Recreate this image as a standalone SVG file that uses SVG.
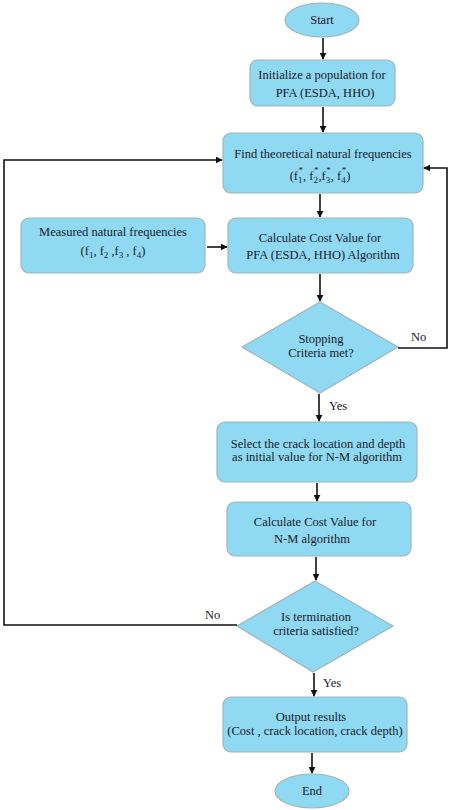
<svg xmlns="http://www.w3.org/2000/svg" width="474" height="810" viewBox="0 0 474 810">
<defs>
<marker id="ah" viewBox="0 0 10 10" refX="9" refY="5" markerWidth="7" markerHeight="7" markerUnits="userSpaceOnUse" orient="auto"><path d="M0,0 L10,5 L0,10 z" fill="#111"/></marker>
<style>
.n{fill:#8fd9f3;stroke:#a3b3bb;stroke-width:1.2}
.t{font-family:"Liberation Serif","Times New Roman",serif;font-size:12.5px;fill:#1a1a2a;text-anchor:middle}
.l{font-family:"Liberation Serif","Times New Roman",serif;font-size:12.5px;fill:#1a1a2a}
.c{fill:none;stroke:#111;stroke-width:1.6}
.a{marker-end:url(#ah)}
.s{font-size:9px}
</style>
</defs>
<rect width="474" height="810" fill="#fff"/>
<g id="start"><ellipse class="n" cx="322" cy="20" rx="37" ry="17"/><text class="t" x="322" y="24">Start</text></g>
<g id="init"><rect class="n" x="250" y="60" width="145" height="46" rx="8"/><text class="t" x="322" y="79">Initialize a population for</text><text class="t" x="325" y="97">PFA (ESDA, HHO)</text></g>
<g id="find"><rect class="n" x="223" y="133" width="200" height="60" rx="8"/><text class="t" x="323" y="158">Find theoretical natural frequencies</text>
<text class="t" x="320" y="180">(f<tspan class="s" dy="3">1</tspan><tspan class="s" dx="-4" dy="-10">*</tspan><tspan dy="7">, f</tspan><tspan class="s" dy="3">2</tspan><tspan class="s" dx="-4" dy="-10">*</tspan><tspan dy="7">,f</tspan><tspan class="s" dy="3">3</tspan><tspan class="s" dx="-4" dy="-10">*</tspan><tspan dy="7">, f</tspan><tspan class="s" dy="3">4</tspan><tspan class="s" dx="-4" dy="-10">*</tspan><tspan dy="7">)</tspan></text></g>
<g id="measured"><rect class="n" x="21" y="218" width="184" height="55" rx="8"/><text class="t" x="113" y="236">Measured natural frequencies</text>
<text class="t" x="113" y="255">(f<tspan class="s" dy="3">1</tspan><tspan dy="-3">, f</tspan><tspan class="s" dy="3">2</tspan><tspan dy="-3"> ,f</tspan><tspan class="s" dy="3">3</tspan><tspan dy="-3"> , f</tspan><tspan class="s" dy="3">4</tspan><tspan dy="-3">)</tspan></text></g>
<g id="calc1"><rect class="n" x="228" y="218" width="185" height="55" rx="8"/><text class="t" x="320" y="242">Calculate Cost Value for</text><text class="t" x="323" y="259">PFA (ESDA, HHO) Algorithm</text></g>
<g id="stop"><polygon class="n" points="320,302 398,347 320,393 242,347"/><text class="t" x="321" y="343">Stopping</text><text class="t" x="321" y="357">Criteria met?</text></g>
<g id="select"><rect class="n" x="217" y="422" width="200" height="60" rx="8"/><text class="t" x="318" y="448">Select the crack location and depth</text><text class="t" x="317" y="461">as initial value for N-M algorithm</text></g>
<g id="calc2"><rect class="n" x="227" y="502" width="184" height="54" rx="8"/><text class="t" x="315" y="526">Calculate Cost Value for</text><text class="t" x="312" y="543">N-M algorithm</text></g>
<g id="term"><polygon class="n" points="315,581 393,626 313,672 237,626"/><text class="t" x="316" y="621">Is termination</text><text class="t" x="316" y="635">criteria satisfied?</text></g>
<g id="output"><rect class="n" x="223" y="697" width="184" height="55" rx="8"/><text class="t" x="311" y="721">Output results</text><text class="t" x="315" y="735">(Cost , crack location, crack depth)</text></g>
<g id="end"><ellipse class="n" cx="312" cy="791" rx="37" ry="17"/><text class="t" x="312" y="795">End</text></g>
<g id="connectors">
<line class="c a" x1="323" y1="38" x2="323" y2="59"/>
<line class="c a" x1="323" y1="107" x2="323" y2="132"/>
<line class="c a" x1="320" y1="194" x2="320" y2="217"/>
<line class="c a" x1="207" y1="247" x2="227" y2="247"/>
<line class="c a" x1="320" y1="274" x2="320" y2="301"/>
<line class="c a" x1="319" y1="394" x2="319" y2="421"/>
<line class="c a" x1="317" y1="483" x2="317" y2="501"/>
<line class="c a" x1="316" y1="557" x2="316" y2="580"/>
<line class="c a" x1="314" y1="673" x2="314" y2="696"/>
<line class="c a" x1="312" y1="753" x2="312" y2="773"/>
<polyline class="c a" points="398,348 447,348 447,168 424,168"/>
<polyline class="c a" points="237,625 4,625 4,160 222,160"/>
<text class="l" x="411" y="341">No</text>
<text class="l" x="205" y="619">No</text>
<text class="l" x="329" y="410">Yes</text>
<text class="l" x="323" y="687">Yes</text>
</g>
</svg>
